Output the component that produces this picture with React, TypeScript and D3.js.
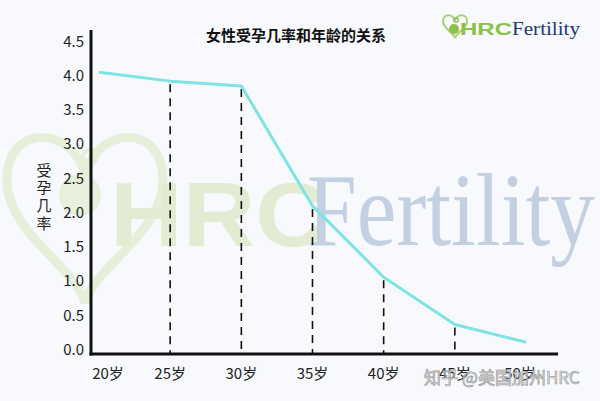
import React from "react";
import * as d3 from "d3";

const ages = [20, 25, 30, 35, 40, 45, 50];
const rates = [4.03, 3.9, 3.83, 2.08, 1.04, 0.35, 0.09];
const dashedAges = [25, 30, 35, 40, 45];
const xLabels = ["20岁", "25岁", "30岁", "35岁", "40岁", "45岁", "50岁"];
const yTicks = [0, 0.5, 1, 1.5, 2, 2.5, 3, 3.5, 4, 4.5];
const title = "女性受孕几率和年龄的关系";
const yTitle = ["受", "孕", "几", "率"];

const W = 600;
const H = 401;
const CJK = "'Noto Sans CJK SC', 'Noto Sans', sans-serif";

function heartPath(cx: number, top: number, w: number, h: number) {
  const p = d3.path();
  const X = (u: number) => cx + u * w;
  const Y = (v: number) => top + v * h;
  p.moveTo(X(0), Y(0.28));
  p.bezierCurveTo(X(-0.05), Y(0.0), X(-0.5), Y(-0.05), X(-0.5), Y(0.3));
  p.bezierCurveTo(X(-0.5), Y(0.6), X(-0.05), Y(0.8), X(0), Y(1));
  p.bezierCurveTo(X(0.05), Y(0.8), X(0.5), Y(0.6), X(0.5), Y(0.3));
  p.bezierCurveTo(X(0.5), Y(-0.05), X(0.05), Y(0.0), X(0), Y(0.28));
  return p.toString();
}

export default function App() {
  const x = d3.scaleLinear().domain([20, 50]).range([99, 526]);
  const y = d3.scaleLinear().domain([0, 4.5]).range([348.5, 40]);
  const axisX0 = 91;
  const axisY = 354;
  const axisTop = 30;
  const axisRight = 558;

  const pts = ages.map((a, i) => [x(a), y(rates[i])] as [number, number]);
  const line = d3.line().curve(d3.curveLinear)(pts) || "";
  const rateOf = (a: number) => rates[ages.indexOf(a)];
  const labelDx = (i: number) => (i === 0 ? 9 : i === xLabels.length - 1 ? -6 : 0);

  return (
    <svg
      width={W}
      height={H}
      viewBox={`0 0 ${W} ${H}`}
      style={{ position: "absolute", left: 0, top: 0, display: "block" }}
    >
      <rect x={0} y={0} width={W} height={H} fill="#f7f9fc" />

      {/* big watermark */}
      <g>
        <path d={heartPath(85, 128, 156, 175)} fill="none" stroke="#e7efda" strokeWidth={9} />
        <circle cx={80} cy={195} r={21} fill="#e8efdb" />
        <circle cx={90} cy={157} r={7} fill="none" stroke="#e6eed8" strokeWidth={4} />
        <text
          x={110}
          y={246}
          fontFamily="'Liberation Sans', Arial, sans-serif"
          fontWeight={700}
          fontSize={90}
          fill="#e3ebd2"
          textLength={218}
          lengthAdjust="spacingAndGlyphs"
        >
          HRC
        </text>
        <text
          x={307}
          y={245}
          fontFamily="'Liberation Serif', 'DejaVu Serif', serif"
          fontSize={104}
          fill="#c3d0e2"
          textLength={288}
          lengthAdjust="spacingAndGlyphs"
        >
          Fertility
        </text>
      </g>

      {/* small logo */}
      <g>
        <path d={heartPath(455, 14, 24, 24)} fill="none" stroke="#a9cf7a" strokeWidth={2} />
        <circle cx={454} cy={29} r={5} fill="#8cc04b" />
        <circle cx={456} cy={20} r={2.2} fill="none" stroke="#8cc04b" strokeWidth={1.3} />
        <text
          x={460}
          y={34.5}
          fontFamily="'Liberation Sans', Arial, sans-serif"
          fontWeight={700}
          fontSize={16}
          fill="#8cc04b"
          textLength={52}
          lengthAdjust="spacingAndGlyphs"
        >
          HRC
        </text>
        <text
          x={512}
          y={34.5}
          fontFamily="'Liberation Serif', serif"
          fontSize={18}
          fill="#1f3a72"
          textLength={68}
          lengthAdjust="spacingAndGlyphs"
        >
          Fertility
        </text>
      </g>

      {/* title */}
      <text
        x={296}
        y={34}
        textAnchor="middle"
        dominantBaseline="central"
        fontFamily={CJK}
        fontWeight={700}
        fontSize={15}
        fill="#111"
      >
        {title}
      </text>

      {/* dashed verticals */}
      {dashedAges.map((a) => (
        <line
          key={a}
          x1={x(a)}
          x2={x(a)}
          y1={y(rateOf(a)) + 3}
          y2={axisY}
          stroke="#111"
          strokeWidth={1.6}
          strokeDasharray="8,6"
        />
      ))}

      {/* axes */}
      <line x1={axisX0} x2={axisX0} y1={axisTop} y2={axisY + 1.5} stroke="#111" strokeWidth={3} />
      <line x1={axisX0 - 1.5} x2={axisRight} y1={axisY} y2={axisY} stroke="#111" strokeWidth={3} />

      {/* data line */}
      <path d={line} fill="none" stroke="#7fe3e3" strokeWidth={3} strokeLinejoin="round" />

      {/* y ticks */}
      {yTicks.map((t) => (
        <text
          key={t}
          x={84}
          y={y(t)}
          textAnchor="end"
          dominantBaseline="central"
          fontFamily={CJK}
          fontSize={15}
          fill="#222"
        >
          {d3.format(".1f")(t)}
        </text>
      ))}

      {/* y title */}
      {yTitle.map((c, i) => (
        <text
          key={c}
          x={44}
          y={169 + i * 17.8}
          textAnchor="middle"
          dominantBaseline="central"
          fontFamily={CJK}
          fontSize={15}
          fill="#222"
        >
          {c}
        </text>
      ))}

      {/* x labels */}
      {xLabels.map((l, i) => (
        <text
          key={l}
          x={x(ages[i]) + labelDx(i)}
          y={372}
          textAnchor="middle"
          dominantBaseline="central"
          fontFamily={CJK}
          fontSize={15}
          fill="#222"
        >
          {l}
        </text>
      ))}

      {/* corner watermark */}
      <text
        x={502}
        y={376}
        textAnchor="middle"
        dominantBaseline="central"
        fontFamily={CJK}
        fontSize={17}
        fill="#e6e6e6"
        fillOpacity={0.75}
        stroke="#9a9a9a"
        strokeWidth={0.7}
      >
        知乎 @美国加州HRC
      </text>
    </svg>
  );
}
